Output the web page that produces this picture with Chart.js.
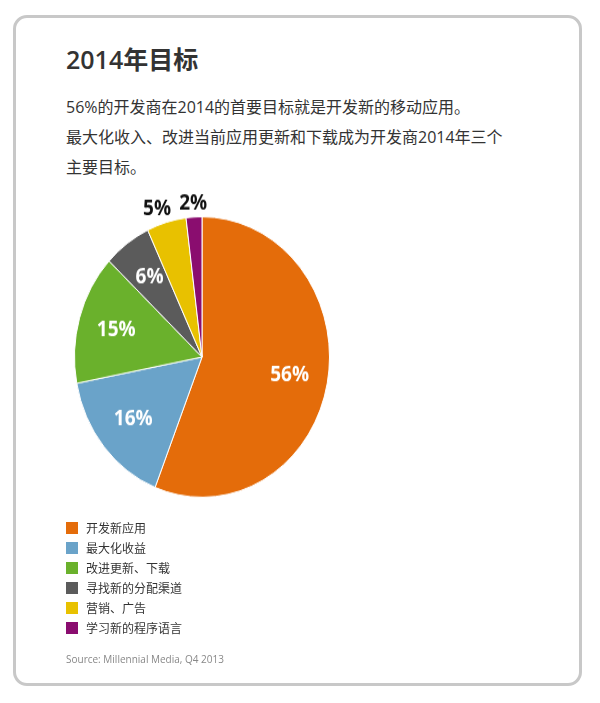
<!DOCTYPE html>
<html><head><meta charset="utf-8">
<script src="https://cdn.jsdelivr.net/npm/chart.js@4"></script>
<style>
body{margin:0;background:#fff;font-family:"Open Sans","Noto Sans CJK SC",sans-serif;}
#card{position:absolute;left:13px;top:15px;width:563px;height:665px;border:3px solid #c8c8c8;border-radius:14px;background:#fff;}
#title{position:absolute;left:66px;top:40px;font-size:25px;font-weight:600;color:#333;font-family:"Open Sans","Noto Sans CJK SC";}
#sub{position:absolute;left:66px;top:92px;font-size:16px;line-height:30px;color:#333;}
#wrap{position:absolute;left:0;top:200px;width:400px;height:320px;transform:scaleY(1.1);transform-origin:202px 157px;}
#legend{position:absolute;left:66px;top:519px;font-size:12px;color:#333;}
#legend div{height:20px;line-height:20px;}
#legend span{display:inline-block;width:12px;height:12px;vertical-align:-1px;margin-right:8px;}
#src{position:absolute;left:66px;top:652px;font-size:10px;color:#888;}
</style></head><body>
<div id="card"></div>
<div id="title">2014年目标</div>
<div id="sub">56%的开发商在2014的首要目标就是开发新的移动应用。<br>最大化收入、改进当前应用更新和下载成为开发商2014年三个<br>主要目标。</div>
<div id="wrap"><canvas id="c" width="400" height="320"></canvas></div>
<div id="legend"></div>
<div id="src">Source: Millennial Media, Q4 2013</div>
<script>
const categories=["开发新应用","最大化收益","改进更新、下载","寻找新的分配渠道","营销、广告","学习新的程序语言"];
const values=[56,16,15,6,5,2];
const colors=["#e46c0a","#6aa3c9","#6ab12c","#5b5b5b","#e8c100","#8a0d6f"];
const lg=document.getElementById('legend');
categories.forEach((c,i)=>{const d=document.createElement('div');d.innerHTML='<span style="background:'+colors[i]+'"></span>'+c;lg.appendChild(d);});
const labelPlugin={id:'lbl',afterDatasetsDraw(chart){
 const ctx=chart.ctx;const meta=chart.getDatasetMeta(0);
 meta.data.forEach((arc,i)=>{
  const a=(arc.startAngle+arc.endAngle)/2;const small=values[i]<6;
  const r=small?arc.outerRadius+12:arc.outerRadius*0.7;
  const x=arc.x+Math.cos(a)*r,y=arc.y+Math.sin(a)*r;
  ctx.save();ctx.font='bold 19px "Open Sans"';ctx.textAlign='center';ctx.textBaseline='middle';
  ctx.fillStyle=small?'#111':'#fff';
  ctx.fillText(values[i]+'%',small?x-(i==4?6:0):x,y);ctx.restore();
 });}};
new Chart(document.getElementById('c'),{type:'pie',
 data:{labels:categories,datasets:[{data:values,backgroundColor:colors,borderColor:'#fff',borderWidth:1}]},
 options:{responsive:false,animation:false,layout:{padding:{top:29,bottom:35,left:74,right:70}},
  plugins:{legend:{display:false},tooltip:{enabled:false}}},
 plugins:[labelPlugin]});
</script></body></html>
